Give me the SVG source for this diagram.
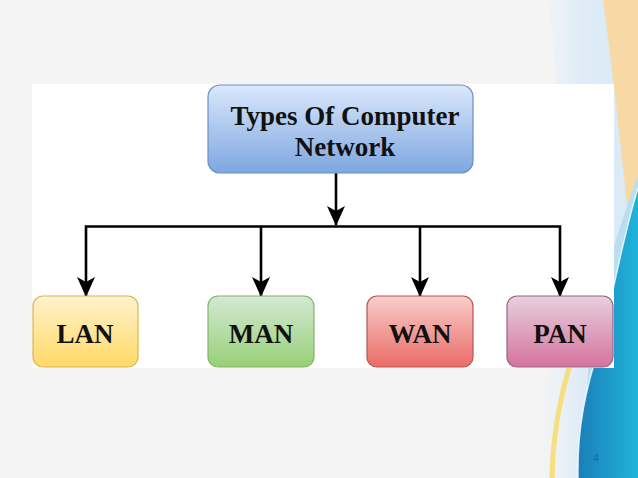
<svg xmlns="http://www.w3.org/2000/svg" width="638" height="478" viewBox="0 0 638 478">
<defs>
<style>
.lbl{font-family:"Liberation Serif","Times New Roman",serif;font-weight:bold;font-size:27px;fill:#111;text-anchor:middle}
.edge{fill:none;stroke:#000;stroke-width:2.6;stroke-linejoin:miter}
.box{stroke-width:1.2}
</style>
<linearGradient id="gBlue" x1="0" y1="0" x2="0" y2="1"><stop offset="0" stop-color="#dae8fc"/><stop offset="1" stop-color="#7ea6e0"/></linearGradient>
<linearGradient id="gYel" x1="0" y1="0" x2="0" y2="1"><stop offset="0" stop-color="#fff2cc"/><stop offset="1" stop-color="#ffd966"/></linearGradient>
<linearGradient id="gGrn" x1="0" y1="0" x2="0" y2="1"><stop offset="0" stop-color="#d5e8d4"/><stop offset="1" stop-color="#97d077"/></linearGradient>
<linearGradient id="gRed" x1="0" y1="0" x2="0" y2="1"><stop offset="0" stop-color="#f8cecc"/><stop offset="1" stop-color="#ea6b66"/></linearGradient>
<linearGradient id="gPnk" x1="0" y1="0" x2="0" y2="1"><stop offset="0" stop-color="#e6d0de"/><stop offset="1" stop-color="#d5739d"/></linearGradient>
<linearGradient id="gWash" x1="0" y1="0" x2="1" y2="0"><stop offset="0" stop-color="#e6f0f8" stop-opacity="0"/><stop offset="0.4" stop-color="#dfecf7"/><stop offset="1" stop-color="#d8e9f6"/></linearGradient>
<linearGradient id="gTeal" x1="0" y1="0" x2="1" y2="0"><stop offset="0" stop-color="#1a7fb9"/><stop offset="1" stop-color="#20b3d9"/></linearGradient>
<marker id="arr" markerUnits="userSpaceOnUse" markerWidth="20" markerHeight="20" viewBox="0 0 20 20" refX="19" refY="10" orient="auto-start-reverse">
<path d="M0,1 L20,10 L0,19 L5,10 Z" fill="#000"/>
</marker>
</defs>
<!-- background -->
<rect x="0" y="0" width="638" height="478" fill="#f4f4f4"/>
<path d="M548,0 L638,0 L638,478 L540,478 C548,330 570,150 548,0 Z" fill="url(#gWash)"/>
<path d="M603,0 L638,0 L638,300 C628,220 618,110 603,0 Z" fill="#f7d9a6"/>
<path d="M638,175 C618,230 600,290 590,330 L583,478 L638,478 Z" fill="#b9def0"/>
<path d="M638,188 C622,240 612,300 600,345 C585,390 577,430 578,478 L638,478 Z" fill="url(#gTeal)"/>
<path d="M638,188 C622,240 612,300 600,345 C585,390 577,430 578,478" fill="none" stroke="#ffffff" stroke-width="1.5" opacity="0.8"/>
<path d="M580,330 C565,380 553,420 552,478" fill="none" stroke="#f5df7e" stroke-width="5"/>
<text x="596" y="462" font-family="Liberation Sans, Arial, sans-serif" font-size="10" fill="#1f5fbf" text-anchor="middle">4</text>
<!-- white panel -->
<rect x="32" y="84" width="582" height="284" fill="#ffffff"/>
<!-- connectors -->
<g id="connectors">
<path class="edge" d="M336,173 V225" marker-end="url(#arr)"/>
<path class="edge" d="M86,296 V226.5 H560 V296" marker-start="url(#arr)" marker-end="url(#arr)"/>
<path class="edge" d="M261,226.5 V296" marker-end="url(#arr)"/>
<path class="edge" d="M420,226.5 V296" marker-end="url(#arr)"/>
</g>
<!-- nodes -->
<g id="root">
<rect class="box" x="208" y="85" width="265" height="88" rx="12" fill="url(#gBlue)" stroke="#6c8ebf"/>
<text class="lbl" x="345" y="125">Types Of Computer</text>
<text class="lbl" x="345" y="156">Network</text>
</g>
<g id="lan">
<rect class="box" x="33" y="296" width="105" height="71" rx="10" fill="url(#gYel)" stroke="#d6b656"/>
<text class="lbl" x="85" y="343">LAN</text>
</g>
<g id="man">
<rect class="box" x="208" y="296" width="106" height="71" rx="10" fill="url(#gGrn)" stroke="#82b366"/>
<text class="lbl" x="261" y="343">MAN</text>
</g>
<g id="wan">
<rect class="box" x="367" y="296" width="106" height="71" rx="10" fill="url(#gRed)" stroke="#b85450"/>
<text class="lbl" x="420" y="343">WAN</text>
</g>
<g id="pan">
<rect class="box" x="507" y="296" width="106" height="71" rx="10" fill="url(#gPnk)" stroke="#996185"/>
<text class="lbl" x="560" y="343">PAN</text>
</g>
</svg>
